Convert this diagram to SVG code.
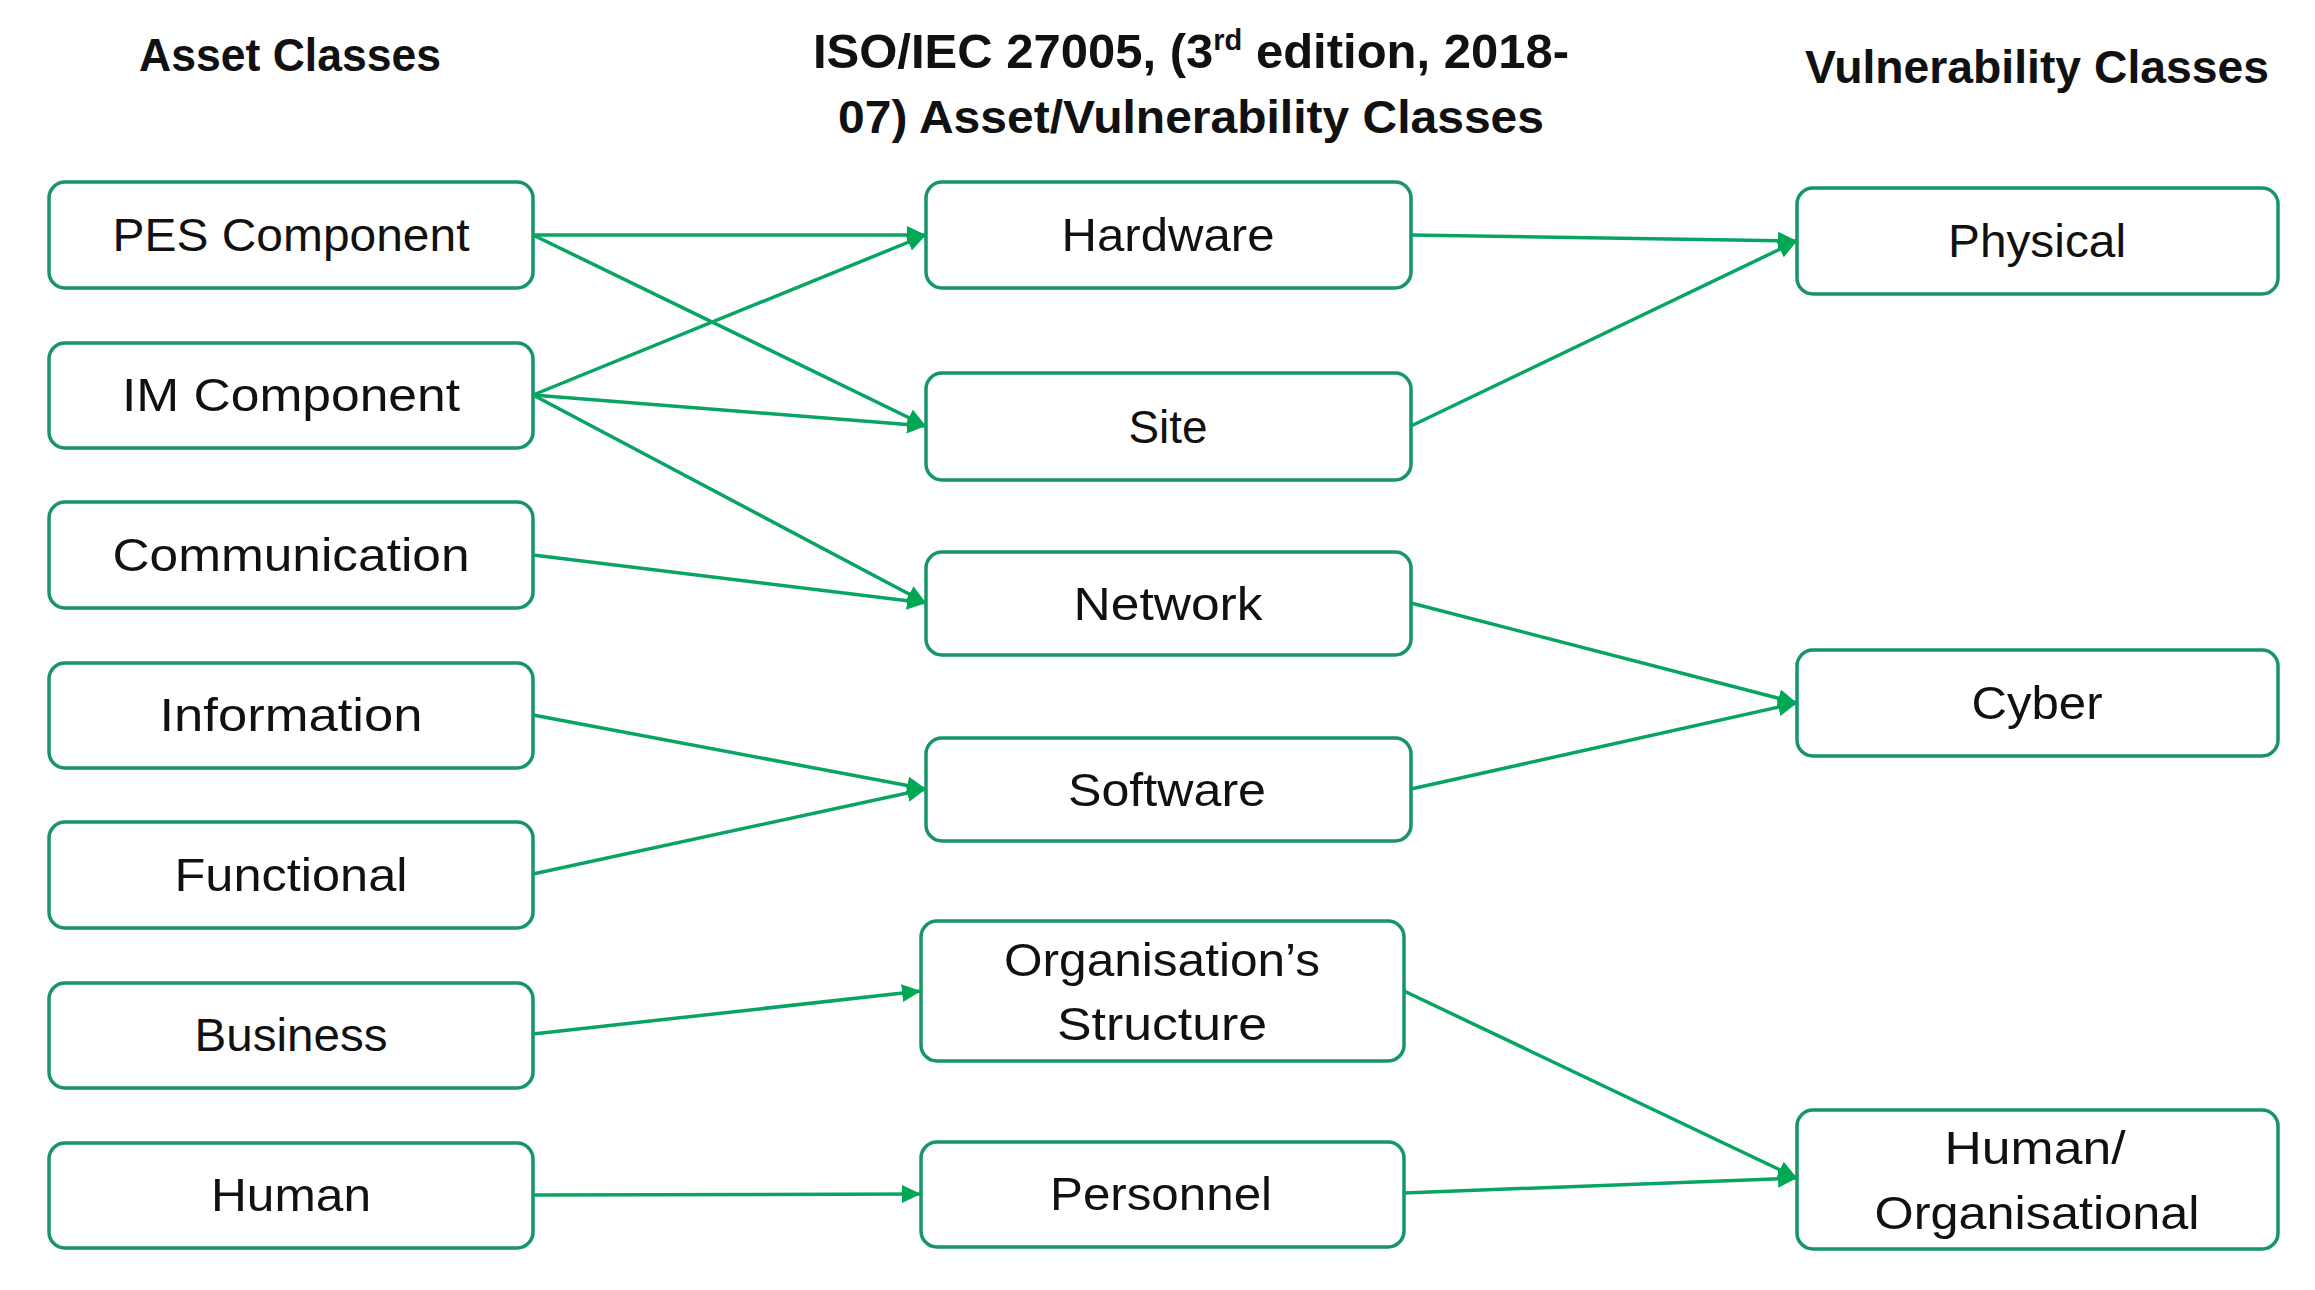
<svg xmlns="http://www.w3.org/2000/svg" width="2315" height="1290" viewBox="0 0 2315 1290">
<style>
.box{fill:#ffffff;stroke:#16946a;stroke-width:3.5}
.lbl{font-family:"Liberation Sans",Arial,sans-serif;font-size:47px;fill:#111111;text-anchor:middle}
.hdr{font-family:"Liberation Sans",Arial,sans-serif;font-size:47px;font-weight:bold;fill:#111111;text-anchor:middle}
.con line{stroke:#08a463;stroke-width:3.5;fill:none;marker-end:url(#ah)}
</style>
<defs>
<marker id="ah" markerUnits="userSpaceOnUse" markerWidth="22" markerHeight="20" refX="19" refY="9" orient="auto">
<path d="M0,0 L19,9 L0,18 z" fill="#00a855"/>
</marker>
</defs>
<rect width="2315" height="1290" fill="#ffffff"/>
<g id="headers">
<text class="hdr" x="290" y="71" textLength="302" lengthAdjust="spacingAndGlyphs">Asset Classes</text>
<text class="hdr" x="1191" y="68" style="font-size:49px">ISO/IEC 27005, (3<tspan style="font-size:29px" dy="-18">rd</tspan><tspan dy="18"> edition, 2018-</tspan></text>
<text class="hdr" x="1191" y="133" textLength="706" lengthAdjust="spacingAndGlyphs">07) Asset/Vulnerability Classes</text>
<text class="hdr" x="2037" y="83" textLength="464" lengthAdjust="spacingAndGlyphs">Vulnerability Classes</text>
</g>
<g id="n-pes"><rect class="box" x="49" y="182" width="484" height="106" rx="16"/><text class="lbl" x="291" y="251" textLength="357" lengthAdjust="spacingAndGlyphs">PES Component</text></g>
<g id="n-im"><rect class="box" x="49" y="343" width="484" height="105" rx="16"/><text class="lbl" x="291" y="411" textLength="338" lengthAdjust="spacingAndGlyphs">IM Component</text></g>
<g id="n-comm"><rect class="box" x="49" y="502" width="484" height="106" rx="16"/><text class="lbl" x="291" y="571" textLength="357" lengthAdjust="spacingAndGlyphs">Communication</text></g>
<g id="n-info"><rect class="box" x="49" y="663" width="484" height="105" rx="16"/><text class="lbl" x="291" y="731" textLength="263" lengthAdjust="spacingAndGlyphs">Information</text></g>
<g id="n-func"><rect class="box" x="49" y="822" width="484" height="106" rx="16"/><text class="lbl" x="291" y="891" textLength="233" lengthAdjust="spacingAndGlyphs">Functional</text></g>
<g id="n-bus"><rect class="box" x="49" y="983" width="484" height="105" rx="16"/><text class="lbl" x="291" y="1051" textLength="193" lengthAdjust="spacingAndGlyphs">Business</text></g>
<g id="n-human"><rect class="box" x="49" y="1143" width="484" height="105" rx="16"/><text class="lbl" x="291" y="1211" textLength="160" lengthAdjust="spacingAndGlyphs">Human</text></g>
<g id="n-hw"><rect class="box" x="926" y="182" width="485" height="106" rx="16"/><text class="lbl" x="1168" y="251" textLength="213" lengthAdjust="spacingAndGlyphs">Hardware</text></g>
<g id="n-site"><rect class="box" x="926" y="373" width="485" height="107" rx="16"/><text class="lbl" x="1168" y="443" textLength="79" lengthAdjust="spacingAndGlyphs">Site</text></g>
<g id="n-net"><rect class="box" x="926" y="552" width="485" height="103" rx="16"/><text class="lbl" x="1168" y="620" textLength="189" lengthAdjust="spacingAndGlyphs">Network</text></g>
<g id="n-sw"><rect class="box" x="926" y="738" width="485" height="103" rx="16"/><text class="lbl" x="1167" y="806" textLength="198" lengthAdjust="spacingAndGlyphs">Software</text></g>
<g id="n-org"><rect class="box" x="921" y="921" width="483" height="140" rx="16"/><text class="lbl" x="1162" y="976" textLength="316" lengthAdjust="spacingAndGlyphs">Organisation’s</text><text class="lbl" x="1162" y="1040" textLength="210" lengthAdjust="spacingAndGlyphs">Structure</text></g>
<g id="n-pers"><rect class="box" x="921" y="1142" width="483" height="105" rx="16"/><text class="lbl" x="1161" y="1210" textLength="222" lengthAdjust="spacingAndGlyphs">Personnel</text></g>
<g id="n-phys"><rect class="box" x="1797" y="188" width="481" height="106" rx="16"/><text class="lbl" x="2037" y="257" textLength="178" lengthAdjust="spacingAndGlyphs">Physical</text></g>
<g id="n-cyber"><rect class="box" x="1797" y="650" width="481" height="106" rx="16"/><text class="lbl" x="2037" y="719" textLength="131" lengthAdjust="spacingAndGlyphs">Cyber</text></g>
<g id="n-hum-org"><rect class="box" x="1797" y="1110" width="481" height="139" rx="16"/><text class="lbl" x="2035" y="1164" textLength="181" lengthAdjust="spacingAndGlyphs">Human/</text><text class="lbl" x="2037" y="1229" textLength="325" lengthAdjust="spacingAndGlyphs">Organisational</text></g>
<g id="connectors" class="con">
<line x1="533" y1="235" x2="926" y2="235"/>
<line x1="533" y1="235" x2="926" y2="426"/>
<line x1="533" y1="395" x2="926" y2="235"/>
<line x1="533" y1="395" x2="926" y2="426"/>
<line x1="533" y1="395" x2="926" y2="603"/>
<line x1="533" y1="555" x2="926" y2="603"/>
<line x1="533" y1="715" x2="926" y2="789"/>
<line x1="533" y1="874" x2="926" y2="789"/>
<line x1="533" y1="1034" x2="921" y2="991"/>
<line x1="533" y1="1195" x2="921" y2="1194"/>
<line x1="1411" y1="235" x2="1797" y2="241"/>
<line x1="1411" y1="426" x2="1797" y2="241"/>
<line x1="1411" y1="603" x2="1797" y2="703"/>
<line x1="1411" y1="789" x2="1797" y2="703"/>
<line x1="1404" y1="991" x2="1797" y2="1178"/>
<line x1="1404" y1="1193" x2="1797" y2="1178"/>
</g>
</svg>
